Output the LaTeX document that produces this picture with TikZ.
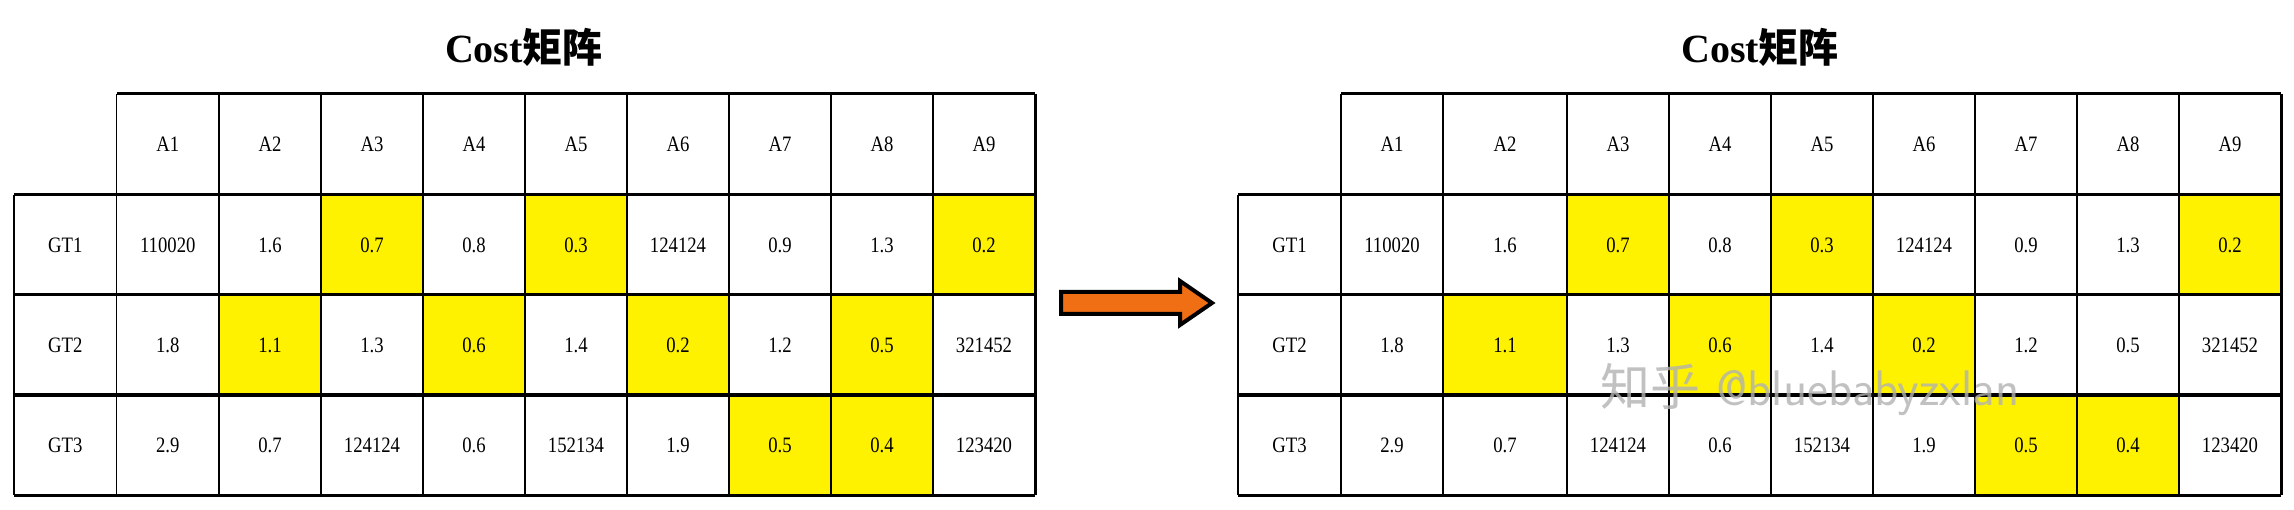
\documentclass[tikz,border=0pt]{standalone}
\usepackage{fontspec}
\usetikzlibrary{calc}
\setmainfont{Liberation Serif}
\newfontfamily\cjk{Noto Sans CJK SC}
\begin{document}
\begin{tikzpicture}[x=1pt,y=-1pt,
  cell/.style={font=\fontsize{22}{24}\selectfont,xscale=0.85},
  ttl/.style={font=\fontsize{40}{44}\selectfont\bfseries}]
\useasboundingbox (0,0) rectangle (2294,510);
\fill[white] (0,0) rectangle (2294,510);
\foreach \x [count=\i from 0] in {14,116.5,219,321,423,525,627,729,831,933,1035}{\coordinate (Lx\i) at (\x,0);}
\foreach \x [count=\i from 0] in {1238,1341,1443,1567,1669,1771,1873,1975,2077,2179,2281}{\coordinate (Rx\i) at (\x,0);}
\foreach \y [count=\i from 0] in {94,195,295,395,495}{\coordinate (y\i) at (0,\y);}
\foreach \c/\r in {3/1,5/1,9/1,2/2,4/2,6/2,8/2,7/3,8/3}{
  \pgfmathtruncatemacro\cn{\c+1}\pgfmathtruncatemacro\rn{\r+1}
  \fill[yellow] (Lx\c |- y\r) rectangle (Lx\cn |- y\rn);}
\foreach \c/\r in {3/1,5/1,9/1,2/2,4/2,6/2,7/3,8/3}{
  \pgfmathtruncatemacro\cn{\c+1}\pgfmathtruncatemacro\rn{\r+1}
  \fill[yellow] (Rx\c |- y\r) rectangle (Rx\cn |- y\rn);}
\foreach \T in {L,R}{
  \draw[line width=3pt] (\T x1 |- y0) -- (\T x10 |- y0);
  \foreach \r in {1,2,3,4}{\draw[line width=3pt] (\T x0 |- y\r) -- (\T x10 |- y\r);}
  \draw[line width=2pt] (\T x0 |- y1) -- (\T x0 |- y4);
  \foreach \c in {1,...,9}{\draw[line width=1.6pt] (\T x\c |- y0) -- (\T x\c |- y4);}
  \draw[line width=3pt] (\T x10 |- y0) -- (\T x10 |- y4);
  \foreach \c in {0,...,9}{
    \pgfmathtruncatemacro\cn{\c+1}
    \coordinate (\T m\c) at ($(\T x\c)!0.5!(\T x\cn)$);}
  \foreach \c in {1,...,9}{\node[cell] (\T h\c) at (\T m\c |- 0,144.5) {A\c};}
  \foreach \r/\yy in {1/245,2/345,3/445}{\node[cell] (\T g\r) at (\T m0 |- 0,\yy) {GT\r};}
  \foreach \v [count=\c] in {110020,1.6,0.7,0.8,0.3,124124,0.9,1.3,0.2}{
    \node[cell] (\T a\c) at (\T m\c |- 0,245) {\v};}
  \foreach \v [count=\c] in {1.8,1.1,1.3,0.6,1.4,0.2,1.2,0.5,321452}{
    \node[cell] (\T b\c) at (\T m\c |- 0,345) {\v};}
  \foreach \v [count=\c] in {2.9,0.7,124124,0.6,152134,1.9,0.5,0.4,123420}{
    \node[cell] (\T c\c) at (\T m\c |- 0,445) {\v};}
}
\node[ttl] (t1) at (524,47) {Cost{\cjk 矩阵}};
\node[ttl] (t2) at (1760,47) {Cost{\cjk 矩阵}};
\draw[line width=4pt,fill={rgb,255:red,240;green,110;blue,20},line join=miter]
  (1061,292) -- (1180,292) -- (1180,281) -- (1212,303) -- (1180,325) -- (1180,314) -- (1061,314) -- cycle;
\node[text=gray!60,opacity=0.8,font=\fontsize{50}{54}\selectfont\sffamily] (wm) at (1810,390) {{\cjk 知乎} @bluebabyzxlan};
\end{tikzpicture}
\end{document}
